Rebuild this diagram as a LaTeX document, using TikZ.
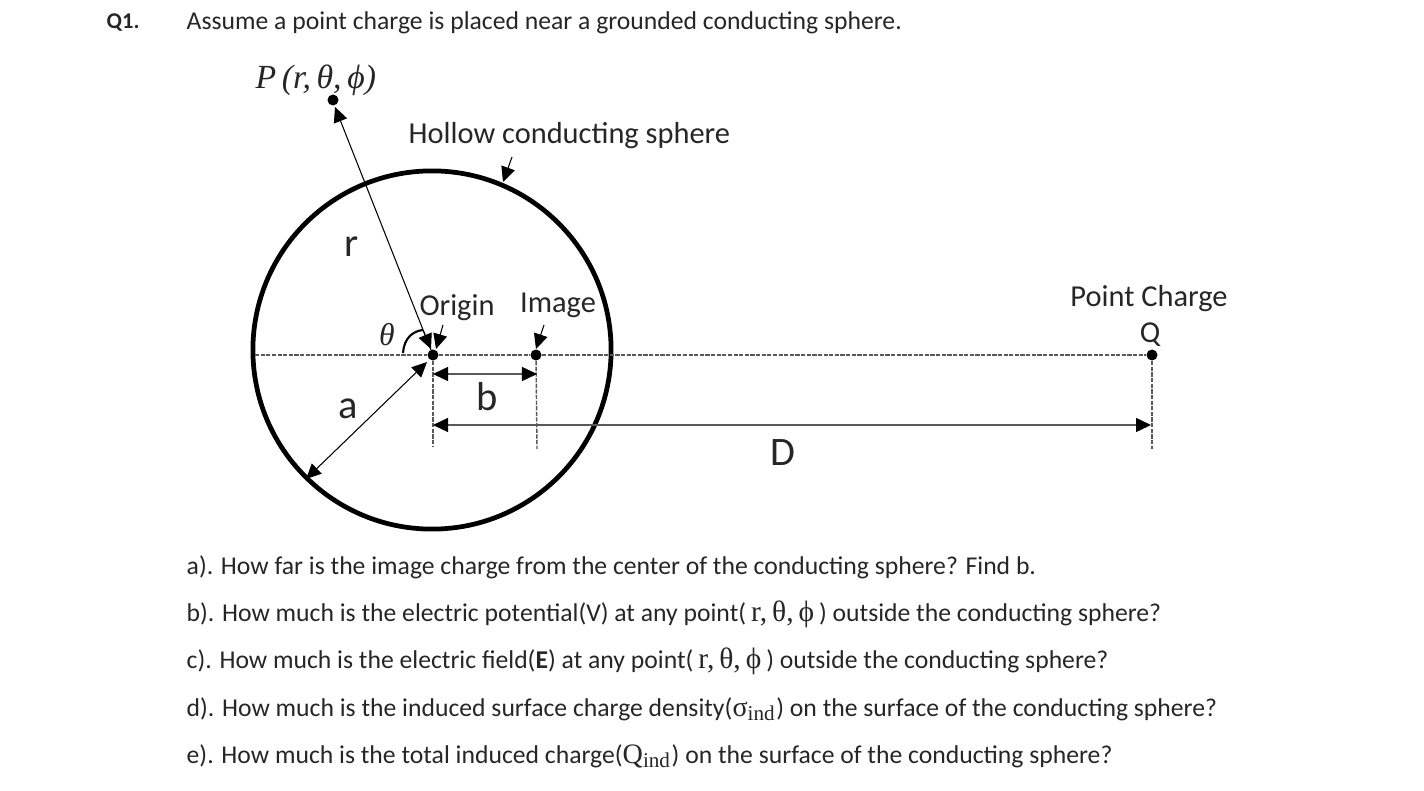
\documentclass[tikz,border=0pt]{standalone}
\usepackage{fontspec}
\setmainfont{Carlito}
\newfontfamily\serifmath{Liberation Serif}
\usetikzlibrary{arrows.meta,positioning,calc}
\newcommand{\rtp}{{\serifmath\fontsize{8.4}{9}\selectfont\,r,\,θ,\,ϕ\,}}

\begin{document}
\begin{tikzpicture}[
    x=0.01cm, y=-0.01cm,
    line/.style={font=\fontsize{7.3}{8}\selectfont, inner sep=0pt, anchor=base west, text=black!85},
    label/.style={font=\fontsize{8.65}{10}\selectfont, inner sep=0pt, anchor=base, text=black!85},
    big/.style={font=\fontsize{11.5}{13}\selectfont, inner sep=0pt, anchor=base, text=black!85},
    dot/.style={circle, fill=black, inner sep=0pt, minimum size=0.11cm},
    arrow/.style={-{Triangle[length=0.15cm,width=0.14cm]}, line width=0.3pt},
    dimarrow/.style={{Triangle[length=0.15cm,width=0.14cm,color=black]}-{Triangle[length=0.15cm,width=0.14cm,color=black]}, line width=0.4pt, draw=black!65},
    axis/.style={dash pattern=on 1.2pt off 0.4pt, line width=0.4pt, draw=black!65}
]
\useasboundingbox (0,0) rectangle (1424,791);

% Sphere
\node[circle, draw=black, line width=1.35pt, minimum size=3.58cm, inner sep=0pt] (sphere) at (432,350) {};

% Charges
\node[dot] (point) at (333,100) {};
\node[dot] (origin) at (433,355) {};
\node[dot] (image) at (536,355) {};
\node[dot] (charge) at (1152,355) {};

\coordinate (axisleft) at (255,355);
\coordinate (rtip) at (335,107);
\coordinate (rstart) at (431,350);
\coordinate (astart) at (306,479);
\coordinate (aend) at (427,362);
\coordinate (olow) at (433,446);
\coordinate (ilow) at (537,449);
\coordinate (qlow) at (1152,449);

% Axis and drop lines
\draw[axis] (axisleft) -- (origin);
\draw[axis] (origin) -- (image);
\draw[axis] (image) -- (charge);
\draw[axis] (origin) -- (olow);
\draw[axis] (image) -- (ilow);
\draw[axis] (charge) -- (qlow);

% Radius arrows
\draw[arrow] (rstart) -- (rtip);
\draw[{Triangle[length=0.15cm,width=0.14cm]}-{Triangle[length=0.15cm,width=0.14cm]}, line width=0.3pt] (astart) -- (aend);

% Angle mark
\coordinate (arcstart) at (403,353);
\coordinate (arcend) at (423,330);
\coordinate (thetatip) at (431,349);
\draw[line width=0.6pt] (arcstart) .. controls (404,338) and (413,331) .. (arcend);
\draw[arrow] (arcend) -- (thetatip);

% Pointers
\coordinate (hollowtop) at (512,157);
\coordinate (hollowtip) at (503,182);
\coordinate (origintop) at (443,325);
\coordinate (origintip) at (436,349);
\coordinate (imagetop) at (544,325);
\coordinate (imagetip) at (536,349);
\draw[arrow] (hollowtop) -- (hollowtip);
\draw[arrow] (origintop) -- (origintip);
\draw[arrow] (imagetop) -- (imagetip);

% Dimensions
\coordinate (bleft) at (433,374);
\coordinate (bright) at (537,374);
\coordinate (dleft) at (433,425);
\coordinate (dright) at (1151,425);
\draw[dimarrow] (bleft) -- (bright);
\draw[dimarrow] (dleft) -- (dright);

% Labels
\node[font=\fontsize{9.6}{11}\selectfont\serifmath\itshape, inner sep=0pt, anchor=base west, text=black!85] (plabel) at (255,89) {P\,(r,\,θ,\,ϕ)};
\node[label, anchor=base west] (hollow) at (408,144) {Hollow conducting sphere};
\node[big] (rlabel) at (352,257) {r};
\node[label] (originlabel) at (457,315) {Origin};
\node[label] (imagelabel) at (558,313) {Image};
\node[font=\fontsize{9}{10}\selectfont\serifmath\itshape, inner sep=0pt, anchor=base, text=black!85] (thetalabel) at (387,345) {θ};
\node[big] (alabel) at (348,418) {a};
\node[big] (blabel) at (487,410) {b};
\node[big] (dlabel) at (783,465) {D};
\node[label] (chargelabel) at (1149,306) {Point Charge};
\node[label] (qlabel) at (1150,342) {Q};

% Question text
\node[line, font=\fontsize{6.4}{8}\selectfont\bfseries] (qone) at (106,29) {Q1.};
\node[line] (intro) at (186,30) {Assume a point charge is placed near a grounded conducting sphere.};
\node[line] (parta) at (186,574) {a). How far is the image charge from the center of the conducting sphere? Find b.};
\node[line] (partb) at (186,621) {b). How much is the electric potential(V) at any point(\rtp) outside the conducting sphere?};
\node[line] (partc) at (186,668) {c). How much is the electric field(\textbf{E}) at any point(\rtp) outside the conducting sphere?};
\node[line] (partd) at (186,716) {d). How much is the induced surface charge density({\serifmath\fontsize{8}{9}\selectfont σ\textsubscript{ind}}) on the surface of the conducting sphere?};
\node[line] (parte) at (186,763) {e). How much is the total induced charge({\serifmath\fontsize{8}{9}\selectfont Q\textsubscript{ind}}) on the surface of the conducting sphere?};
\end{tikzpicture}
\end{document}
